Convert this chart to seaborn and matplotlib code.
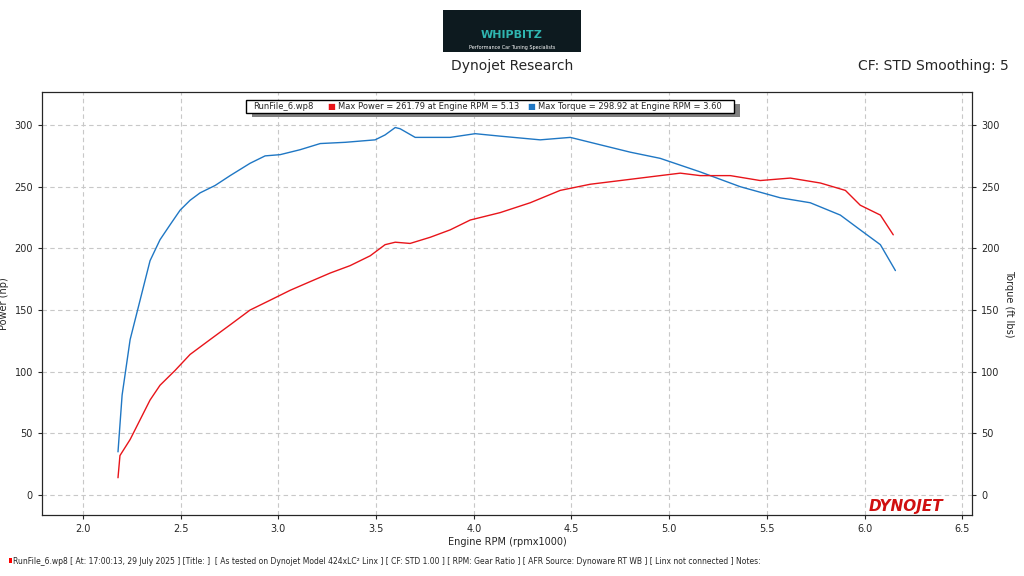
import matplotlib
matplotlib.use("Agg")
import matplotlib.pyplot as plt
import seaborn as sns
import numpy as np
import pandas as pd

sns.set_style("white")
plt.rcParams['font.family'] = ['DejaVu Sans']

torque_px = [118,122,130,140,150,160,170,180,190,200,215,230,250,265,280,300,320,345,375,385,395,400,415,450,475,500,540,570,600,630,660,700,740,780,810,840,860,880,895]
torque_val = [35,81,126,158,190,207,219,231,239,245,251,259,269,275,276,280,285,286,288,292,298,297,290,290,293,291,288,290,284,278,273,262,250,241,237,227,215,203,182]
power_px = [118,120,130,140,150,160,175,190,210,230,250,270,290,310,330,350,370,385,395,410,430,450,470,500,530,560,590,620,650,680,700,730,760,790,820,845,860,880,893]
power_val = [14,32,45,61,77,89,101,114,126,138,150,158,166,173,180,186,194,203,205,204,209,215,223,229,237,247,252,255,258,261,259,259,255,257,253,247,235,227,211]
torque_rpm = [round(2.0 + (x - 83) / 195.3, 3) for x in torque_px]
power_rpm = [round(2.0 + (x - 83) / 195.3, 3) for x in power_px]

fig = plt.figure(figsize=(10.24, 5.76), dpi=100)
ax = fig.add_axes([42/1024, 1-515/576, 930/1024, 423/576])
sns.lineplot(x=torque_rpm, y=torque_val, ax=ax, color="#1f77c4", lw=1)
sns.lineplot(x=power_rpm, y=power_val, ax=ax, color="#e8141a", lw=1)
ax.set_xlim(1.79, 6.55)
ax.set_ylim(-16.2, 326.8)
ax.set_xticks(np.arange(2.0, 6.51, 0.5))
ax.set_xticklabels([f"{v:.1f}" for v in np.arange(2.0, 6.51, 0.5)], fontsize=7)
ax.set_yticks(range(0, 301, 50))
ax.tick_params(labelsize=7, length=3, direction="out", left=True, bottom=True)
ax.grid(True, ls=(0, (4, 3)), color="#c8c8c8", lw=0.8)
ax.set_xlabel("Engine RPM (rpmx1000)", fontsize=7, labelpad=2)
ax.set_ylabel("Power (hp)", fontsize=7)
for s in ax.spines.values():
    s.set_color("black"); s.set_linewidth(0.8)
ax2 = ax.twinx()
ax2.set_ylim(-16.2, 326.8)
ax2.set_yticks(range(0, 301, 50))
ax2.tick_params(labelsize=7, length=3, direction="out", right=True)
ax2.set_ylabel("Torque (ft lbs)", fontsize=7, rotation=270, labelpad=10)

# legend box with shadow
fig.patches.append(plt.Rectangle((252/1024, 1-117/576), 488/1024, 13/576, transform=fig.transFigure, fc="#808080", ec="none"))
fig.patches.append(plt.Rectangle((246/1024, 1-113/576), 488/1024, 13/576, transform=fig.transFigure, fc="white", ec="black", lw=1))
ty = 1-106.5/576
fs = 6
fig.text(253/1024, ty, "RunFile_6.wp8", fontsize=fs, va="center")
fig.text(327/1024, ty, "\u25a0", fontsize=fs, va="center", color="#e8141a")
fig.text(338/1024, ty, "Max Power = 261.79 at Engine RPM = 5.13", fontsize=fs, va="center")
fig.text(527/1024, ty, "\u25a0", fontsize=fs, va="center", color="#1f77c4")
fig.text(538/1024, ty, "Max Torque = 298.92 at Engine RPM = 3.60", fontsize=fs, va="center")

fig.text(0.5, 1-66/576, "Dynojet Research", ha="center", va="center", fontsize=10)
fig.text(0.985, 1-66/576, "CF: STD Smoothing: 5", ha="right", va="center", fontsize=10)
fig.patches.append(plt.Rectangle((443/1024, 1-52/576), 138/1024, 42/576, transform=fig.transFigure, fc="#0d1a1f", ec="none"))
fig.text(512/1024, 1-35/576, "WHIPBITZ", ha="center", va="center", fontsize=8, color="#2fb5b0", weight="bold")
fig.text(512/1024, 1-47/576, "Performance Car Tuning Specialists", ha="center", va="center", fontsize=3.5, color="white")
fig.text(943/1024, 1-507/576, "DYNOJET", ha="right", va="center", fontsize=11, color="#d01010", weight="bold", style="italic")
fig.patches.append(plt.Rectangle((9/1024, 1-563/576), 3/1024, 5/576, transform=fig.transFigure, fc="red", ec="none"))
fig.text(13/1024, 1-561/576, "RunFile_6.wp8 [ At: 17:00:13, 29 July 2025 ] [Title: ]  [ As tested on Dynojet Model 424xLC\u00b2 Linx ] [ CF: STD 1.00 ] [ RPM: Gear Ratio ] [ AFR Source: Dynoware RT WB ] [ Linx not connected ] Notes:",
         fontsize=5.5, va="center")
fig.savefig("out.png", dpi=100)
